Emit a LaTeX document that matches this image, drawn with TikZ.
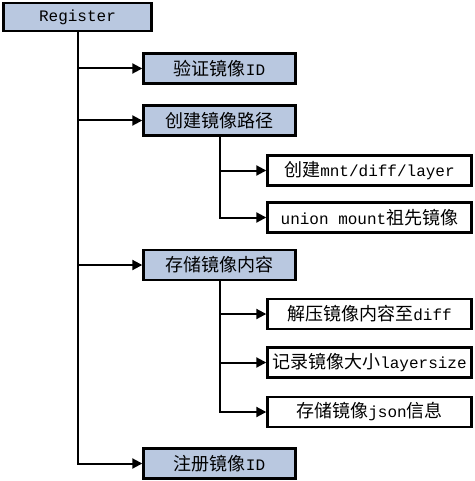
\documentclass[tikz,border=0pt]{standalone}
\usepackage{fontspec}
\setmainfont{Liberation Mono}
\newfontfamily\cj{Noto Sans CJK SC}[Scale=1.125]
\usetikzlibrary{arrows.meta}
\definecolor{boxblue}{HTML}{B9C8E0}
\tikzset{
  basebox/.style={draw=black, line width=2.4pt, inner sep=0pt, minimum height=30pt,
    font=\fontsize{16}{19}\selectfont, text=black},
  mainbox/.style={basebox, fill=boxblue, minimum width=152pt},
  subbox/.style={basebox, fill=white, minimum width=204pt},
  link/.style={draw=black, line width=2pt, -{Triangle[length=10pt,width=10pt]}},
}
\begin{document}
\begin{tikzpicture}[x=1pt,y=-1pt]
\useasboundingbox (0,0) rectangle (474,481);
\node[mainbox, minimum width=148pt, minimum height=28pt] (reg) at (77.5,17) {Register};
\node[mainbox] (verify) at (219.5,68.5) {{\cj 验证镜像}ID};
\node[mainbox] (path) at (219.5,120.5) {{\cj 创建镜像路径}};
\node[subbox] (mnt) at (369.5,170.5) {{\cj 创建}mnt/diff/layer};
\node[subbox] (union) at (369.5,217.5) {union mount{\cj 祖先镜像}};
\node[mainbox] (store) at (219.5,265) {{\cj 存储镜像内容}};
\node[subbox] (unzip) at (369.5,314) {{\cj 解压镜像内容至}diff};
\node[subbox] (size) at (369.5,362.5) {{\cj 记录镜像大小}layersize};
\node[subbox] (json) at (369.5,412) {{\cj 存储镜像}json{\cj 信息}};
\node[mainbox] (regid) at (219.5,463.5) {{\cj 注册镜像}ID};
\draw[link] (reg.south) |- (verify.west);
\draw[link] (reg.south) |- (path.west);
\draw[link] (reg.south) |- (store.west);
\draw[link] (reg.south) |- (regid.west);
\draw[link] (path.south) |- (mnt.west);
\draw[link] (path.south) |- (union.west);
\draw[link] (store.south) |- (unzip.west);
\draw[link] (store.south) |- (size.west);
\draw[link] (store.south) |- (json.west);
\end{tikzpicture}
\end{document}
